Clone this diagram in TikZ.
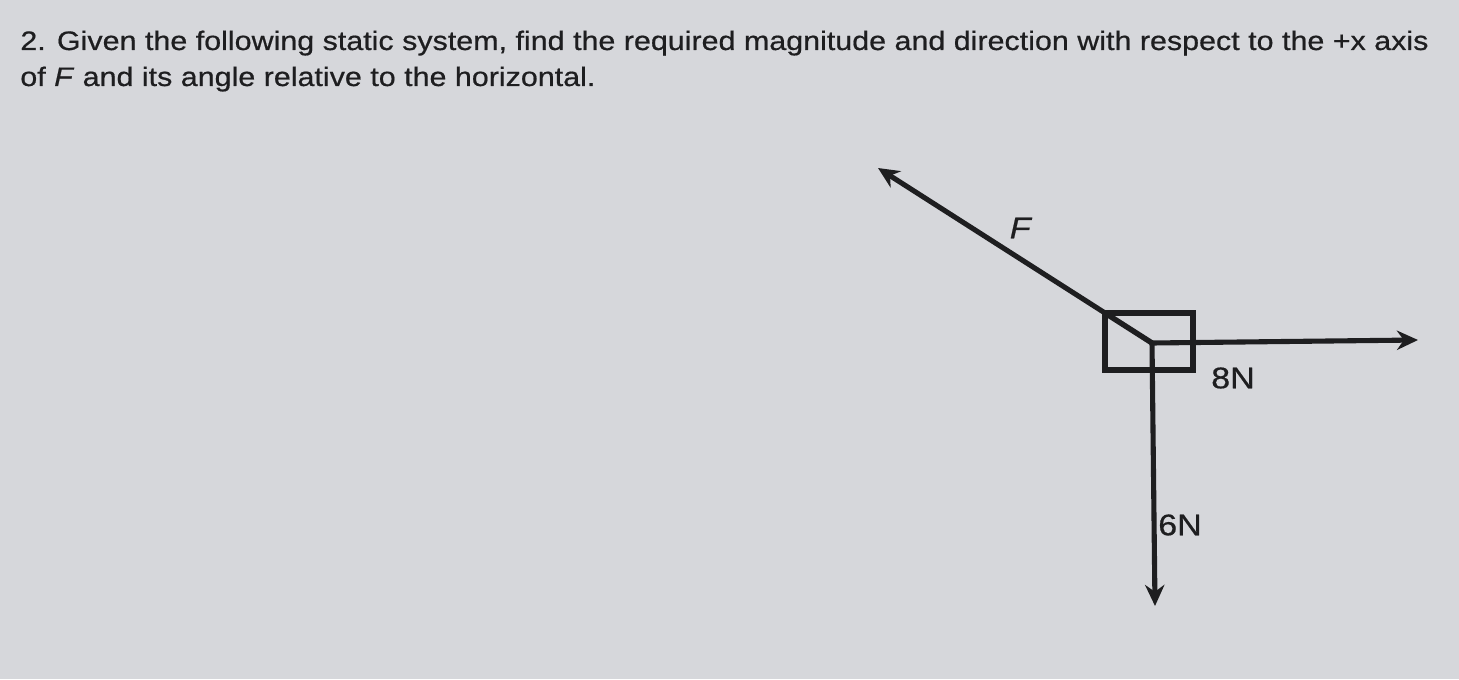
\documentclass[tikz,border=0pt]{standalone}
\usepackage{fontspec}
\setmainfont{Liberation Sans}[FakeStretch=1.14,FakeBold=0.6]
\usetikzlibrary{arrows.meta}
\definecolor{bg}{RGB}{214,215,219}
\definecolor{ink}{RGB}{30,30,32}
\begin{document}
\begin{tikzpicture}[x=0.02cm,y=-0.02cm,
  force/.style={draw=ink,line width=2.9pt,-{Stealth[length=12pt,width=11pt]}},
  edge/.style={draw=ink,line width=3.1pt},
  lbl/.style={text=ink,font=\fontsize{17}{20}\selectfont,inner sep=0pt},
  qtext/.style={text=ink,font=\fontsize{15.2}{19}\selectfont,anchor=base west,inner sep=0pt}]
\fill[bg] (0,0) rectangle (1459,679);
\useasboundingbox (0,0) rectangle (1459,679);
\node[qtext] (q1) at (20,50) {2. Given the following static system, find the required magnitude and direction with respect to the +x axis};
\node[qtext] (q2) at (20,86) {of \textit{F} and its angle relative to the horizontal.};
\coordinate (c) at (1152,343);
\coordinate (bc) at (1105,313);
\coordinate (fend) at (878,168);
\coordinate (xend) at (1418,340);
\coordinate (yend) at (1155,606);
\draw[edge] (1105,313) rectangle (1193,370);
\draw[edge] (c) -- (bc);
\draw[force] (bc) -- (fend);
\draw[force] (c) -- (xend);
\draw[force] (c) -- (yend);
\node[lbl] (F) at (1021,228) {\textit{F}};
\node[lbl] (n8) at (1233,378) {8N};
\node[lbl] (n6) at (1180,525) {6N};
\end{tikzpicture}
\end{document}
